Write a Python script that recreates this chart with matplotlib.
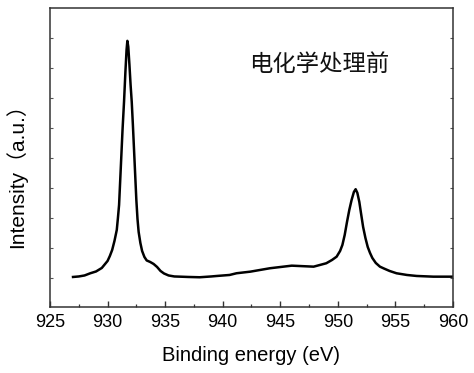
import matplotlib
matplotlib.use("Agg")
import matplotlib.pyplot as plt
from matplotlib.ticker import MultipleLocator, NullFormatter

# Binding energy (eV) and intensity (a.u.)
energy = [927.0, 927.5, 928.0, 928.5, 929.0, 929.5, 930.0, 930.2, 930.4, 930.6,
          930.8, 930.9, 931.0, 931.1, 931.2, 931.3, 931.43, 931.55, 931.65, 931.72,
          931.8, 931.9, 932.0, 932.1, 932.2, 932.3, 932.4, 932.5, 932.6, 932.7,
          932.85, 933.0, 933.2, 933.4, 933.7, 934.0, 934.3, 934.6, 934.9, 935.3,
          935.8, 936.3, 937.0, 938.0, 939.0, 939.5, 940.6, 941.2, 942.4, 944.1,
          946.0, 947.9, 949.0, 949.5, 949.9, 950.2, 950.4, 950.6, 950.8, 951.0,
          951.2, 951.4, 951.55, 951.7, 951.87, 952.0, 952.2, 952.4, 952.6, 952.8,
          953.0, 953.3, 953.66, 954.0, 954.5, 955.1, 956.0, 956.85, 958.3, 960.0]
intensity = [30.0, 30.5, 31.5, 33.7, 35.5, 39.0, 46.0, 51.0, 57.0, 66.0,
             77.0, 89.0, 102.0, 127.0, 152.0, 177.0, 205.0, 235.0, 257.0, 266.0,
             260.0, 242.0, 222.0, 205.0, 182.0, 157.0, 132.0, 107.0, 88.0, 75.0,
             64.0, 56.0, 50.0, 46.5, 45.0, 43.0, 40.0, 36.0, 33.5, 31.5,
             30.5, 30.3, 30.0, 29.7, 30.5, 31.0, 32.0, 33.7, 35.3, 38.7,
             41.3, 40.3, 43.7, 47.0, 50.3, 56.0, 62.0, 72.0, 85.0, 97.0,
             107.0, 115.0, 117.7, 114.0, 105.0, 95.0, 80.0, 69.0, 60.0, 54.0,
             49.0, 44.0, 40.3, 38.5, 36.0, 33.7, 32.0, 31.0, 30.3, 30.3]

x_ticks = [925, 930, 935, 940, 945, 950, 955, 960]
x_label = "Binding energy (eV)"
y_label = "Intensity（a.u.）"
annotation = "电化学处理前"

fig = plt.figure(figsize=(4.74, 3.73), dpi=100)
ax = fig.add_axes([0.1055, 0.177, 0.850, 0.802])

ax.plot(energy, intensity, color="black", lw=1.8, solid_joinstyle="round")

ax.set_xlim(925, 960)
ax.set_ylim(0, 299)
ax.set_xticks(x_ticks)
ax.xaxis.set_minor_locator(MultipleLocator(2.5))
ax.set_yticks(list(range(29, 280, 30)))
ax.yaxis.set_major_formatter(NullFormatter())

for s in ax.spines.values():
    s.set_color("#333333")
    s.set_linewidth(1.1)

ax.tick_params(axis="x", which="major", direction="in", length=4.5, width=1.0,
               color="#333333", labelsize=13, pad=5)
ax.tick_params(axis="x", which="minor", direction="in", length=2.5, width=0.9,
               color="#333333")
ax.tick_params(axis="y", which="major", direction="in", length=2.0, width=0.8,
               color="#555555", right=True)

for lab in ax.get_xticklabels():
    lab.set_family(["Liberation Sans", "DejaVu Sans"])

ax.set_xlabel(x_label, fontsize=14.5, family=["Liberation Sans", "DejaVu Sans"], labelpad=11)
ax.set_ylabel(y_label, fontsize=15, family=["Liberation Sans", "Noto Sans CJK SC"], labelpad=13)
ax.yaxis.label.set_y(0.457)

ax.text(0.494, 0.812, annotation, transform=ax.transAxes, fontsize=16.8,
        family=["Noto Sans CJK SC", "DejaVu Sans"], fontweight="light",
        ha="left", va="center", color="#111111")

fig.savefig("out.png", dpi=100)
